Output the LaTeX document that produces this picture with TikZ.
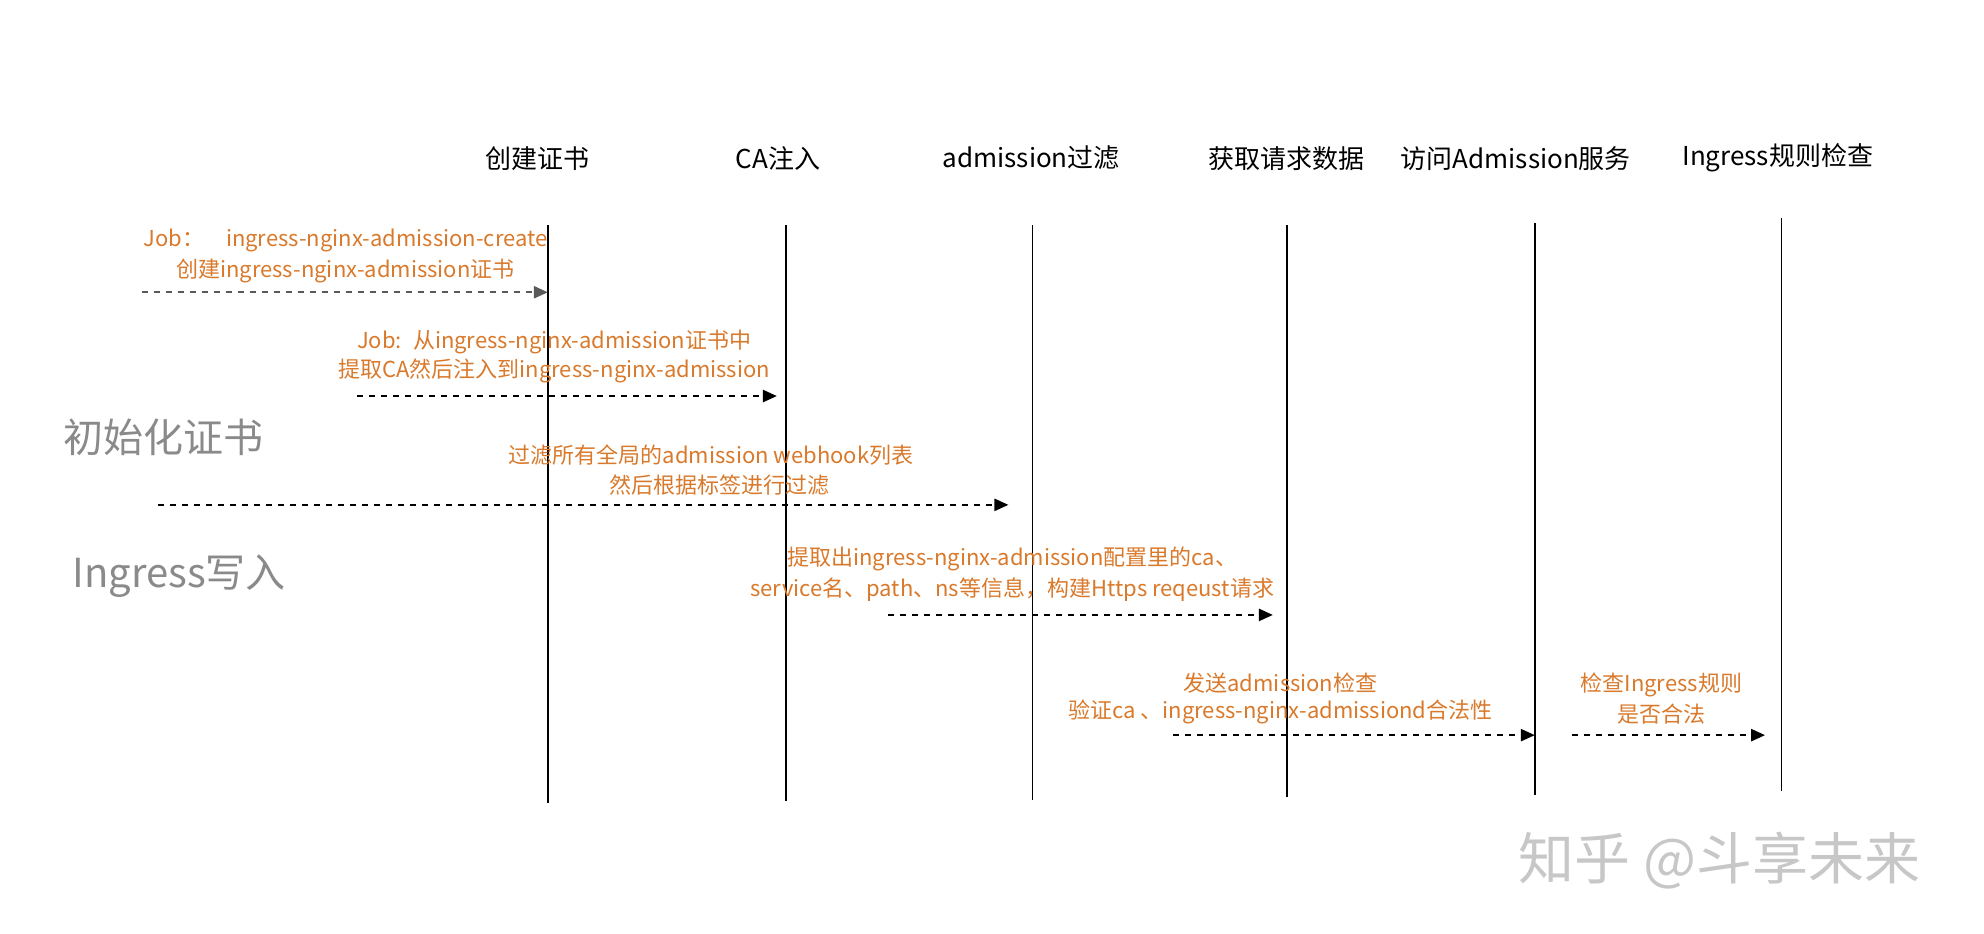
\documentclass[tikz,border=0pt]{standalone}
\usepackage{fontspec}
\setmainfont{Noto Sans CJK SC}
\usetikzlibrary{arrows.meta}
\definecolor{og}{HTML}{D9792B}
\definecolor{gr}{HTML}{8A8A8A}
\begin{document}
\begin{tikzpicture}[x=0.6327pt,y=-0.6327pt,
  hdr/.style={font=\fontsize{13}{15}\selectfont,inner sep=0pt},
  lab/.style={font=\fontsize{11}{13}\selectfont,text=og,inner sep=0pt},
  side/.style={font=\fontsize{20}{23}\selectfont,text=gr,inner sep=0pt,anchor=west},
  life/.style={line width=0.9pt},
  msg/.style={line width=1.2pt,dash pattern=on 3pt off 3pt,-{Triangle[length=7pt,width=6pt]}}]
\useasboundingbox (0,0) rectangle (1568,738);
% headers
\node[hdr] (h1) at (425,125) {创建证书};
\node[hdr] (h2) at (615,125) {CA注入};
\node[hdr] (h3) at (815,125) {admission过滤};
\node[hdr] (h4) at (1017,125) {获取请求数据};
\node[hdr] (h5) at (1198,125) {访问Admission服务};
\node[hdr] (h6) at (1405,125) {Ingress规则检查};
% lifelines
\coordinate (t1) at (433,178); \coordinate (b1) at (433,635);
\coordinate (t2) at (621,178); \coordinate (b2) at (621,633);
\coordinate (t3) at (816,178); \coordinate (b3) at (816,632);
\coordinate (t4) at (1017,178); \coordinate (b4) at (1017,630);
\coordinate (t5) at (1213,176); \coordinate (b5) at (1213,628);
\coordinate (t6) at (1408,172); \coordinate (b6) at (1408,625);
\foreach \i in {1,...,6} \draw[life] (t\i) -- (b\i);
% side labels
\node[side] (s1) at (50,346) {初始化证书};
\node[side] (s2) at (57,455) {Ingress写入};
% messages
\coordinate (a1) at (112,231); \coordinate (e1) at (433,231);
\draw[msg,draw=black!65] (a1) -- (e1);
\node[lab] (l1a) at (273,190) {Job：\quad ingress-nginx-admission-create};
\node[lab] (l1b) at (273,214) {创建ingress-nginx-admission证书};
\coordinate (a2) at (282,313); \coordinate (e2) at (614,313);
\draw[msg] (a2) -- (e2);
\node[lab] (l2a) at (438,270) {Job:\enspace 从ingress-nginx-admission证书中};
\node[lab] (l2b) at (438,293) {提取CA然后注入到ingress-nginx-admission};
\coordinate (a3) at (125,399); \coordinate (e3) at (797,399);
\draw[msg] (a3) -- (e3);
\node[lab] (l3a) at (562,360) {过滤所有全局的admission webhook列表};
\node[lab] (l3b) at (569,383) {然后根据标签进行过滤};
\coordinate (a4) at (702,486); \coordinate (e4) at (1006,486);
\draw[msg] (a4) -- (e4);
\node[lab] (l4a) at (800,442) {提取出ingress-nginx-admission配置里的ca、};
\node[lab] (l4b) at (800,466) {service名、path、ns等信息，构建Https reqeust请求};
\coordinate (a5) at (927,581); \coordinate (e5) at (1213,581);
\draw[msg] (a5) -- (e5);
\node[lab] (l5a) at (1012,540) {发送admission检查};
\node[lab] (l5b) at (1012,563) {验证ca 、ingress-nginx-admissiond合法性};
\coordinate (a6) at (1242,581); \coordinate (e6) at (1395,581);
\draw[msg] (a6) -- (e6);
\node[lab] (l6a) at (1313,541) {检查Ingress规则};
\node[lab] (l6b) at (1313,564) {是否合法};
% watermark
\node[font=\fontsize{28}{31}\selectfont,text=black!22,inner sep=0pt] (wm) at (1359,680) {知乎 @斗享未来};
\end{tikzpicture}
\end{document}
